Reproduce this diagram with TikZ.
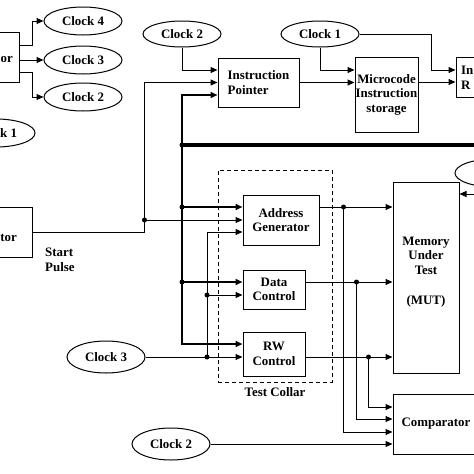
\documentclass[tikz,border=0pt]{standalone}
\usepackage{fontspec}
\setmainfont{Liberation Serif}
\usetikzlibrary{arrows.meta, calc, positioning, shapes.geometric}

\begin{document}
\begin{tikzpicture}[x=1pt, y=-1pt, font=\fontsize{12.9}{14.5}\selectfont\bfseries,
    blk/.style={draw, line width=1pt, rectangle, inner sep=0pt, align=center},
    clk/.style={draw, line width=1pt, ellipse, minimum width=78pt, minimum height=28pt, inner sep=0pt},
    arr/.style={line width=1pt, -{Triangle[length=7pt,width=6pt]}},
    barr/.style={line width=1.8pt, -{Triangle[length=7pt,width=6pt]}},
    bus/.style={line width=2.6pt, line cap=rect},
    bigbus/.style={line width=3.8pt}]
            \useasboundingbox (0,0) rectangle (474,474);
            \clip (0,0) rectangle (474,474);
            % generators cut off at the left edge
            \node [blk, minimum width=80pt, minimum height=50pt] (gen1) at (-21,57) {};
            \node [anchor=east, inner sep=0pt] (gen1t) at (13,60) {or};
            \node [blk, minimum width=82pt, minimum height=50pt] (gen2) at (-9,232) {};
            \node [anchor=east, inner sep=0pt] (gen2t) at (17,238) {tor};
            \node [anchor=west, inner sep=0pt, align=left] (sp_t) at (45,260) {Start\\Pulse};
            % clocks
            \node [clk] (c4) at (83,21) {Clock 4};
            \node [clk] (c3) at (83,60) {Clock 3};
            \node [clk] (c2a) at (83,97) {Clock 2};
            \node [clk] (c1a) at (-4,133) {};
            \node [anchor=west, inner sep=0pt] (c1a_t) at (0,133) {k 1};
            \node [clk, minimum height=26pt] (clk2) at (182,34) {Clock 2};
            \node [clk, minimum height=26pt] (clk1) at (320,34) {Clock 1};
            \node [clk, minimum height=32pt] (clk3) at (106,357) {Clock 3};
            \node [clk, minimum height=32pt] (clk2b) at (171,444) {Clock 2};
            \node [clk] (cr) at (494,173) {};
            % blocks
            \node [blk, minimum width=81pt, minimum height=49pt, align=left] (ip) at (258.5,82.5) {Instruction\\Pointer};
            \node [blk, minimum width=63pt, minimum height=75pt] (mc) at (386.5,94.5) {Microcode\\Instruction\\storage};
            \node [blk, minimum width=84pt, minimum height=40pt] (ir) at (498,77) {};
            \node [anchor=west, inner sep=0pt, align=left] (ir_t) at (461,78) {In\\R};
            \node [blk, minimum width=76pt, minimum height=50pt] (ag) at (281,220) {Address\\Generator};
            \node [blk, minimum width=62pt, minimum height=39pt] (dc) at (274,289.5) {Data\\Control};
            \node [blk, minimum width=62pt, minimum height=44pt] (rw) at (274,354) {RW\\Control};
            \node [blk, minimum width=66pt, minimum height=191pt] (mut) at (426,277.5) {};
            \node [align=center, inner sep=0pt] (mut_t) at (426,272) {Memory\\Under\\Test\\[16pt](MUT)};
            \node [blk, minimum width=86pt, minimum height=60pt] (cmp) at (436,424) {Comparator};
            \node [draw, line width=1pt, dash pattern=on 4pt off 3pt, minimum width=114pt, minimum height=212pt] (tc) at (275,276) {};
            \node [below=2pt of tc] (tc_l) {Test Collar};
            % clock generator outputs
            \draw[arr] (gen1.east) ++(0,-12) -- ++(13,0) |- (c4);
            \draw[arr] (gen1.east |- c3) -- (c3);
            \draw[arr] (gen1.east) ++(0,15) -- ++(13,0) |- (c2a);
            % top row
            \draw[arr] (clk2) |- ($(ip.west)+(0,-12.5)$);
            \draw[arr] (gen2.east) -- ++(112,0) coordinate (sp) |- (ip.west);
            \draw[arr] (ip) -- (ip -| mc.west);
            \draw[arr] (clk1) |- ($(mc.west)+(0,-24.5)$);
            \draw[arr] (clk1.east) -- ++(72,0) |- ($(ir.west)+(0,-7)$);
            \path ($(mc.east)+(0,-12.5)$) coordinate (m1);
            \draw[arr] (m1) -- (m1 -| ir.west);
            \coordinate (j1) at (sp |- ag.west);
            \draw[arr] (j1) -- (ag.west);
            % bus
            \coordinate (bj) at (182,145);
            \coordinate (be) at (474,145);
            \path ($(ip.west)+(0,12.5)$) coordinate (ipb)
                  ($(ag.west)+(0,-13)$) coordinate (agb)
                  ($(dc.west)+(0,-7.5)$) coordinate (dcb)
                  ($(rw.west)+(0,-10)$) coordinate (rwb);
            \draw[bigbus] (bj) -- (be);
            \draw[bus] (bj |- ipb) -- (bj |- rwb);
            \foreach \t in {ipb,agb,dcb,rwb}
                \draw[barr] (bj |- \t) -- (\t);
            % clock 3 into the collar
            \path ($(rw.west)+(0,3)$) coordinate (rwc)
                  ($(ag.west)+(0,12)$) coordinate (agc)
                  ($(dc.west)+(0,5.5)$) coordinate (dcc);
            \coordinate (j3) at (rwc -| 207,0);
            \coordinate (j2) at (j3 |- dcc);
            \draw[arr] (clk3) -- (rwc);
            \draw[arr] (j3) |- (agc);
            \draw[arr] (j2) -- (dcc);
            % collar outputs
            \path ($(ag.east)+(0,-13)$) coordinate (ao)
                  ($(dc.east)+(0,-7.5)$) coordinate (do)
                  ($(rw.east)+(0,3)$) coordinate (ro);
            \draw[arr] (ao) -- (ao -| mut.west);
            \draw[arr] (do) -- (do -| mut.west);
            \draw[arr] (ro) -- (ro -| mut.west);
            \draw[arr] (ao) ++(24,0) coordinate (a2) |- ($(cmp.west)+(0,8)$);
            \draw[arr] (do) ++(51,0) coordinate (d2) |- ($(cmp.west)+(0,-5)$);
            \draw[arr] (ro) ++(63,0) coordinate (r2) |- ($(cmp.west)+(0,-17)$);
            \draw[arr] (clk2b) -- (clk2b -| cmp.west);
            \coordinate (rin) at (474,194);
            \draw[arr] (rin) -- (rin -| mut.east);
            % junctions
            \foreach \j in {bj, j1, j2, j3, a2, d2, r2, {bj |- agb}, {bj |- dcb}}
                \fill (\j) circle (2.5pt);
\end{tikzpicture}
\end{document}
